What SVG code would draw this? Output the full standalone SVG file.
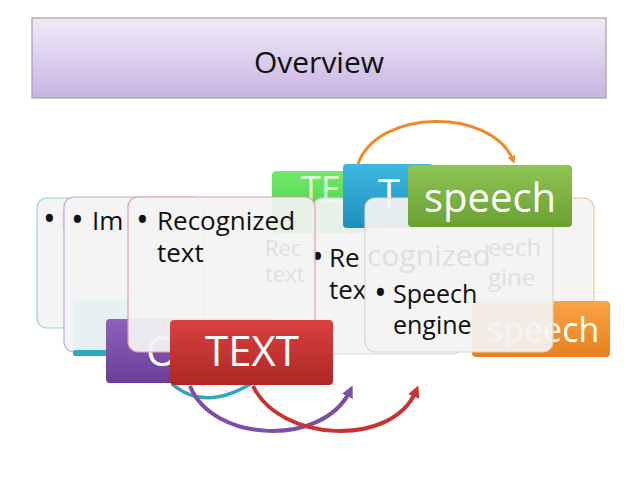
<svg xmlns="http://www.w3.org/2000/svg" width="638" height="478" viewBox="0 0 638 478">
<defs>
<linearGradient id="gTitle" x1="0" y1="0" x2="0" y2="1"><stop offset="0" stop-color="#efeaf7"/><stop offset="1" stop-color="#c8b4e2"/></linearGradient>
<linearGradient id="gPurple" x1="0" y1="0" x2="0" y2="1"><stop offset="0" stop-color="#8d62bd"/><stop offset="1" stop-color="#6a3d98"/></linearGradient>
<linearGradient id="gRed" x1="0" y1="0" x2="0" y2="1"><stop offset="0" stop-color="#d9413f"/><stop offset="1" stop-color="#ad2826"/></linearGradient>
<linearGradient id="gGreen" x1="0" y1="0" x2="0" y2="1"><stop offset="0" stop-color="#74ea6c"/><stop offset="1" stop-color="#3fc43c"/></linearGradient>
<linearGradient id="gBlue" x1="0" y1="0" x2="0" y2="1"><stop offset="0" stop-color="#3eb8e0"/><stop offset="1" stop-color="#1f8fbd"/></linearGradient>
<linearGradient id="gOlive" x1="0" y1="0" x2="0" y2="1"><stop offset="0" stop-color="#8fc555"/><stop offset="1" stop-color="#6a9f32"/></linearGradient>
<linearGradient id="gOrange" x1="0" y1="0" x2="0" y2="1"><stop offset="0" stop-color="#f9a445"/><stop offset="1" stop-color="#e8801f"/></linearGradient>
<marker id="aOrange" markerWidth="8" markerHeight="8" refX="4" refY="4" orient="auto" markerUnits="userSpaceOnUse"><path d="M0,0 L8,4 L0,8 Z" fill="#ee8a2a"/></marker>
<marker id="aPurple" markerWidth="12" markerHeight="12" refX="6" refY="6" orient="auto" markerUnits="userSpaceOnUse"><path d="M0,0 L12,6 L0,12 Z" fill="#7b4fa8"/></marker>
<marker id="aRed" markerWidth="12" markerHeight="12" refX="6" refY="6" orient="auto" markerUnits="userSpaceOnUse"><path d="M0,0 L12,6 L0,12 Z" fill="#c8332f"/></marker>
</defs>
<style>
text{font-family:"Open Sans","Liberation Sans",sans-serif}
.card{fill:#f3f3f3;fill-opacity:0.93;stroke-width:1.2}
.lbl{stroke:none}
.body{font-size:26px;fill:#111}
.bul{font-size:34px;fill:#111}
.faded{fill:#e0e0e0}
.wt{fill:#fff}
</style>
<rect width="638" height="478" fill="#fff"/>

<g id="title">
<rect x="32" y="18" width="574" height="80" fill="url(#gTitle)" stroke="#a59eb0" stroke-width="1.2"/>
<text x="319" y="73" text-anchor="middle" font-size="30" fill="#111">Overview</text>
</g>

<g id="connectors" fill="none">
<path d="M358,164 C378,108 492,108 513,160" stroke="#ee8a2a" stroke-width="3" marker-end="url(#aOrange)"/>
<path d="M172,384 Q205,412 252,383" stroke="#2fa8bd" stroke-width="3.5"/>
<path d="M190,386 C212,442 322,448 350,391" stroke="#7b4fa8" stroke-width="4" marker-end="url(#aPurple)"/>
<path d="M253,386 C280,442 392,448 416,391" stroke="#c8332f" stroke-width="4" marker-end="url(#aRed)"/>
</g>

<g id="label-te">
<rect class="lbl" x="272" y="171" width="110" height="62" rx="4" fill="url(#gGreen)"/>
<text x="301" y="202" font-size="36" class="wt" fill-opacity="0.75">TE</text>
</g>

<g id="card-1">
<rect class="card" x="37" y="198" width="120" height="130" rx="10" stroke="#93d2e2"/>
<text x="43" y="231" class="bul">•</text>
<text x="60" y="229" font-size="26" class="faded">Im</text>
</g>

<g id="card-2">
<rect class="card" x="64" y="197" width="140" height="155" rx="10" stroke="#bcaed0"/>
<rect x="73" y="300" width="120" height="50" fill="#dceef3" fill-opacity="0.6"/>
<rect x="73" y="350" width="40" height="6" rx="2" fill="#2fa8bd"/>
<text x="71" y="232" class="bul">•</text>
<text x="92" y="230" class="body">Im</text>
<text x="126" y="230" font-size="26" class="faded">age</text>
</g>

<g id="label-ocr">
<rect class="lbl" x="106" y="319" width="170" height="64" rx="4" fill="url(#gPurple)"/>
<text x="146" y="366" font-size="42" class="wt">OCR</text>
</g>

<g id="card-right">
<rect class="card" x="470" y="198" width="124" height="150" rx="10" stroke="#f2c896"/>
</g>

<g id="label-speech-orange">
<rect class="lbl" x="472" y="301" width="138" height="56" rx="4" fill="url(#gOrange)"/>
<text x="487" y="342" font-size="34" class="wt">speech</text>
</g>

<g id="card-retext">
<rect class="card" x="313" y="198" width="150" height="156" rx="10" stroke="#d8d8d8"/>
<text x="311" y="269" class="bul">•</text>
<text x="329" y="267" class="body">Re</text>
<text x="329" y="299" class="body">tex</text>
</g>

<g id="card-recognized">
<rect class="card" x="128" y="197" width="187" height="155" rx="10" stroke="#daa3aa"/>
<text x="136" y="232" class="bul">•</text>
<text x="157" y="230" class="body">Recognized</text>
<text x="157" y="262" class="body">text</text>
<text x="265" y="256" font-size="22" class="faded">Rec</text>
<text x="265" y="282" font-size="22" class="faded">text</text>
</g>

<g id="label-t">
<rect class="lbl" x="343" y="164" width="90" height="64" rx="4" fill="url(#gBlue)"/>
<text x="378" y="208" font-size="40" class="wt">T</text>
</g>

<g id="card-speech-engine">
<rect class="card" x="365" y="198" width="188" height="154" rx="10" stroke="#dcd6c4" fill-opacity="0.88"/>
<text x="367" y="266" font-size="30" class="faded">cognized</text>
<text x="488" y="256" font-size="24" class="faded">eech</text>
<text x="488" y="286" font-size="24" class="faded">gine</text>
<text x="374" y="305" class="bul">•</text>
<text x="393" y="303" font-size="25" fill="#111">Speech</text>
<text x="393" y="334" font-size="25" fill="#111">engine</text>
</g>

<g id="label-speech-green">
<rect class="lbl" x="408" y="165" width="164" height="62" rx="4" fill="url(#gOlive)"/>
<text x="490" y="212" text-anchor="middle" font-size="40" class="wt">speech</text>
</g>

<g id="label-text">
<rect class="lbl" x="170" y="320" width="163" height="65" rx="4" fill="url(#gRed)"/>
<text x="252" y="366" text-anchor="middle" font-size="42" class="wt">TEXT</text>
</g>
</svg>
